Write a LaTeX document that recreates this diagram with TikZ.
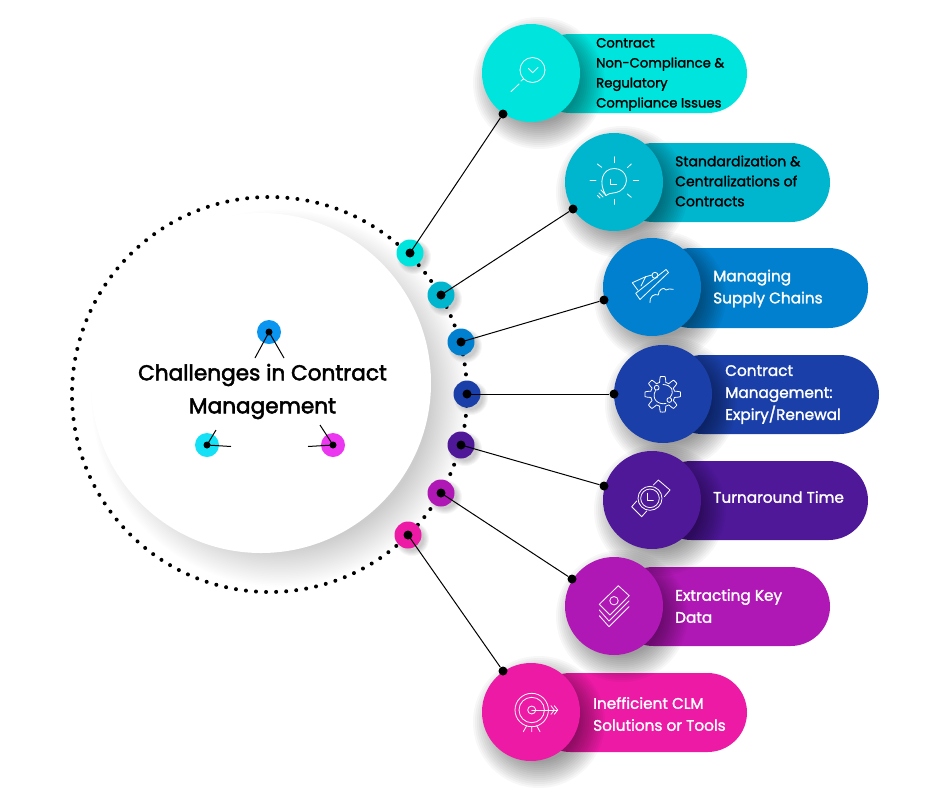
\documentclass[tikz,border=0pt]{standalone}
\usepackage{fontspec}
\setmainfont{Poppins}[FakeBold=1.6]
\usepackage{tikz}
\usetikzlibrary{positioning}

\definecolor{tone1}{HTML}{00E4DE}
\definecolor{tone2}{HTML}{00B5CE}
\definecolor{tone3}{HTML}{0080CE}
\definecolor{tone4}{HTML}{1A3FA8}
\definecolor{tone5}{HTML}{4F1899}
\definecolor{tone6}{HTML}{B018B5}
\definecolor{tone7}{HTML}{EC1AA5}

\tikzset{
  disc/.style={circle,minimum size=98pt,inner sep=0pt},
  hub/.style={circle,minimum size=27pt,inner sep=0pt},
  spot/.style={circle,minimum size=24pt,inner sep=0pt},
  pin/.style={circle,fill=black,minimum size=9pt,inner sep=0pt},
  link/.style={draw=black,line width=1pt},
  pill/.style={rounded corners=39.5pt},
  icon/.style={draw=white,line width=.8pt,line cap=round,line join=round},
  caption/.style={anchor=west,align=left,inner sep=0pt,font=\fontsize{13.2}{20}\selectfont},
  tall caption/.style={caption,font=\fontsize{14}{20}\selectfont},
  wide caption/.style={caption,font=\fontsize{15.3}{22}\selectfont},
}

\begin{document}
\begin{tikzpicture}[x=1pt,y=-1pt]
  \useasboundingbox (0,0) rectangle (940,788);
  \fill[white] (0,0) rectangle (940,788);

  % centre
  \foreach \k in {0,...,24}
    \fill[black,opacity=.008] (280,398) circle ({150pt+\k*1.6pt});
  \node[circle,fill=white,minimum size=340pt,inner sep=0pt] (core) at (261,383) {};
  \draw[line width=4pt,line cap=round,dash pattern=on 0pt off 10.08pt] (269.5,394.5) circle (197.5pt);
  \node[font=\fontsize{21.6}{33}\selectfont\addfontfeatures{FakeBold=2.4},align=center,inner sep=0pt] (title) at (262.5,391.5) {Challenges in Contract\\Management};

  % small spots in the centre
  \node[spot,fill={rgb,255:red,10;green,150;blue,240}] (spotA) at (269,332) {};
  \node[spot,fill={rgb,255:red,20;green,225;blue,245}] (spotB) at (207,445) {};
  \node[spot,fill={rgb,255:red,235;green,55;blue,240}] (spotC) at (333,445) {};
  \coordinate (spotA1) at (255,358);
  \coordinate (spotA2) at (284,358);
  \coordinate (spotB1) at (216,430);
  \coordinate (spotB2) at (231,446.5);
  \coordinate (spotC1) at (320,425);
  \coordinate (spotC2) at (308,446.5);
  \draw[link] (spotA1) -- (spotA.center) -- (spotA2);
  \draw[link] (spotB1) -- (spotB.center) -- (spotB2);
  \draw[link] (spotC1) -- (spotC.center) -- (spotC2);
  \node[pin,minimum size=7pt] (dotA) at (spotA.center) {};
  \node[pin,minimum size=7pt] (dotB) at (spotB.center) {};
  \node[pin,minimum size=7pt] (dotC) at (spotC.center) {};

  % hubs on the ring
  \foreach \hx/\hy in {410/253,441/295,461/342,467/394,461/445,441/493,408/535}
    \foreach \k in {0,...,5}
      \fill[black,opacity=.035] (\hx+4,\hy+4) circle ({12pt+\k*1pt});
  \node[hub,fill=tone1] (hub1) at (410,253) {};
  \node[hub,fill=tone2] (hub2) at (441,295) {};
  \node[hub,fill=tone3] (hub3) at (461,342) {};
  \node[hub,fill=tone4] (hub4) at (467,394) {};
  \node[hub,fill=tone5] (hub5) at (461,445) {};
  \node[hub,fill=tone6] (hub6) at (441,493) {};
  \node[hub,fill=tone7] (hub7) at (408,535) {};

  % pills
  \fill[tone1,pill] (531,34) rectangle (747,113);
  \fill[tone2,pill] (614,143) rectangle (830,222);
  \fill[tone3,pill] (652,248) rectangle (868,328);
  \fill[tone4,pill] (663,355) rectangle (879,434);
  \fill[tone5,pill] (652,461) rectangle (868,540);
  \fill[tone6,pill] (614,567) rectangle (830,646);
  \fill[tone7,pill] (531,673) rectangle (747,752);

  % shadows and discs
  \foreach \hx/\hy in {531/73,614/182,652/287,663/394,652/500,614/606,531/712}
    \foreach \k in {0,...,13}
      \fill[black,opacity=.03] (\hx+8,\hy+10) circle ({40pt+\k*2pt});
  \node[disc,fill=tone1] (disc1) at (531,73) {};
  \node[disc,fill=tone2] (disc2) at (614,182) {};
  \node[disc,fill=tone3] (disc3) at (652,287) {};
  \node[disc,fill=tone4] (disc4) at (663,394) {};
  \node[disc,fill=tone5] (disc5) at (652,500) {};
  \node[disc,fill=tone6] (disc6) at (614,606) {};
  \node[disc,fill=tone7] (disc7) at (531,712) {};

  % pins and links
  \node[pin] (pin1) at (503,114) {};
  \node[pin] (pin2) at (573,209) {};
  \node[pin] (pin3) at (604,300) {};
  \node[pin] (pin4) at (614,394) {};
  \node[pin] (pin5) at (604,486) {};
  \node[pin] (pin6) at (572,579) {};
  \node[pin] (pin7) at (503,671) {};
  \draw[link] (hub1.center) -- (pin1);
  \draw[link] (hub2.center) -- (pin2);
  \draw[link] (hub3.center) -- (pin3);
  \draw[link] (hub4.center) -- (pin4);
  \draw[link] (hub5.center) -- (pin5);
  \draw[link] (hub6.center) -- (pin6);
  \draw[link] (hub7.center) -- (pin7);
  \node[pin] (core1) at (hub1.center) {};
  \node[pin] (core2) at (hub2.center) {};
  \node[pin] (core3) at (hub3.center) {};
  \node[pin] (core4) at (hub4.center) {};
  \node[pin] (core5) at (hub5.center) {};
  \node[pin] (core6) at (hub6.center) {};
  \node[pin] (core7) at (hub7.center) {};

  % captions
  \node[caption,text=black] (text1) at (596,74.5) {Contract\\Non-Compliance \&\\Regulatory\\Compliance Issues};
  \node[tall caption,text=black] (text2) at (675,181) {Standardization \&\\Centralizations of\\Contracts};
  \node[wide caption,text=white] (text3) at (713,288.5) {Managing\\Supply Chains};
  \node[wide caption,text=white] (text4) at (725,394.5) {Contract\\Management:\\Expiry/Renewal};
  \node[wide caption,text=white] (text5) at (713,497) {Turnaround Time};
  \node[wide caption,text=white] (text6) at (675,606) {Extracting Key\\Data};
  \node[wide caption,text=white] (text7) at (593,714) {Inefficient CLM\\Solutions or Tools};

  % icon: magnifier
  \draw[icon] (532.5,70) circle (12.5pt);
  \draw[icon] (528.3,68.3) -- (532.7,72.7) -- (538,67.3);
  \draw[icon] (521,81) -- (523.5,78.8) (519,84) -- (511,91.7);
  % icon: bulb
  \draw[icon] (606,195.5) .. controls (598,183) and (602,168.5) .. (614.3,168.5) .. controls (627,168.5) and (631,184) .. (620,191) .. controls (615,194) and (610,192) .. (606,195.5);
  \draw[icon] (610.7,179.3) -- (610.7,184.7) -- (616.7,184.7);
  \draw[icon] (601,190) -- (606,195.5) (599,193) -- (603,197) (597.5,195.5) -- (600,198);
  \draw[icon] (614.3,156.7) -- (614.3,162.7) (633.3,180.7) -- (638.7,180.7) (590,180.7) -- (596,180.7) (614.3,199.3) -- (614.3,204.3);
  \draw[icon] (597.3,164) -- (601.7,167.3) (631.3,164) -- (627.3,167.7) (627.3,194) -- (631.3,197.3);
  % icon: ship
  \draw[icon] (666,269.5) -- (668.5,272.5) -- (640,299.5) -- (635.7,293.3) -- cycle;
  \draw[icon] (637.7,290) -- (632.3,282.7) -- (645.7,276.7) -- (652,275);
  \draw[icon] (645.7,276.7) -- (641,286);
  \draw[icon] (655,275.3) circle (3pt);
  \draw[icon] (650,302.7) .. controls (649,297) and (654,293) .. (658.3,295) .. controls (658,290) and (664,286) .. (666,290) .. controls (668,289) and (670,288.5) .. (673.3,289.3);
  % icon: gear
  \draw[icon] plot[smooth cycle,domain=0:356.25,samples=96] ({662.7+(15+2.8*max(-1,min(1,2*cos(8*\x))))*cos(\x)},{394.3+(15+2.8*max(-1,min(1,2*cos(8*\x))))*sin(\x)});
  \draw[icon] (656.7,387.7) circle (2.4pt) (669.3,400) circle (2.4pt);
  \draw[icon] (663,384.5) .. controls (672,385) and (675,391) .. (670,397.5);
  \draw[icon] (655.5,390.5) .. controls (651,399) and (658,405) .. (666,403.5);
  % icon: watch
  \draw[icon] (653.3,485) -- (658.3,480) -- (670,490) -- (664.3,496.7);
  \draw[icon] (636.7,501) -- (631.7,506.7) -- (641.7,516.7) -- (646.7,511);
  \draw[icon,fill=tone5] (650,498.3) circle (12pt);
  \draw[icon] (650,498.3) circle (9.3pt);
  \draw[icon] (647.7,493.3) -- (647.7,500) -- (653.3,500);
  % icon: notes
  \draw[icon] (618.3,585.7) -- (629.2,595.7) -- (610,615) -- (599.3,604.3) -- cycle;
  \draw[icon] (614,600.7) circle (4.2pt);
  \draw[icon] (599.3,610) -- (609,621) -- (629,601);
  \draw[icon] (599.3,615.7) -- (609,626.7) -- (629,606.7);
  % icon: target
  \draw[icon] (531.7,710) circle (16.7pt) (531.7,710) circle (12.7pt) (531.7,710) circle (4pt);
  \draw[icon] (531.7,710) -- (557,710);
  \draw[icon] (551,705.7) -- (554.3,710) -- (551,714.3) (554.3,705.7) -- (557.7,710) -- (554.3,714.3);
  \draw[icon] (526.7,725.7) -- (523.3,731.7) (531.7,726.7) -- (531.7,731.7) (536.7,725.7) -- (540,731.7);
\end{tikzpicture}
\end{document}
